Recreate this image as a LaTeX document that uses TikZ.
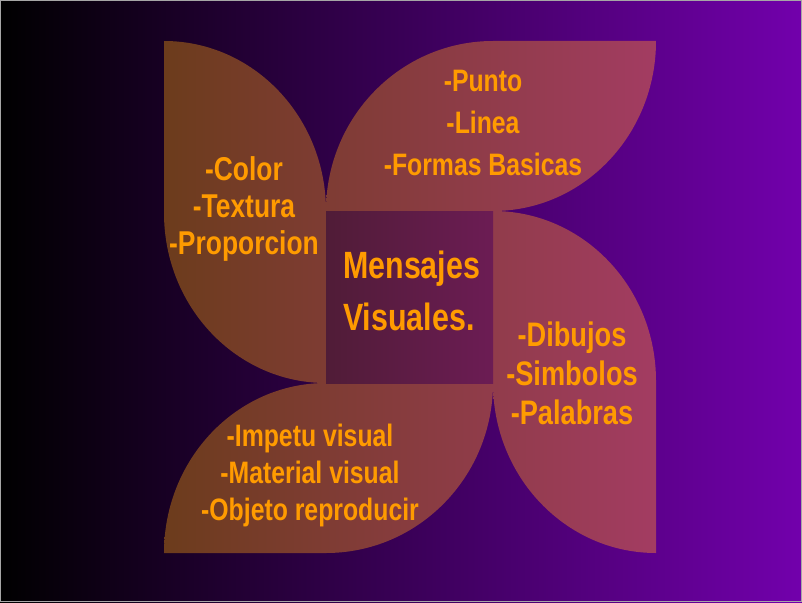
\documentclass[tikz,border=0pt]{standalone}
\usepackage{fontspec}
\setmainfont{Liberation Sans}[FakeStretch=0.8]
\definecolor{bgright}{RGB}{114,0,172}
\definecolor{petalbrown}{RGB}{108,60,28}
\definecolor{petalpink}{RGB}{163,60,98}
\definecolor{coreleft}{RGB}{80,28,55}
\definecolor{coreright}{RGB}{108,28,84}
\definecolor{textorange}{RGB}{255,155,0}
\begin{document}
\begin{tikzpicture}[x=1pt,y=-1pt,
    listtext/.style={text=textorange,inner sep=0pt,align=center,
      font=\bfseries\fontsize{31}{37}\selectfont},
    coretext/.style={text=textorange,inner sep=0pt,align=left,
      font=\bfseries\fontsize{38}{52}\selectfont}]
  \useasboundingbox (0,0) rectangle (802,602);
  \shade[left color=black,right color=bgright] (0,0) rectangle (802,602);
  \shade[left color=petalbrown,right color=petalpink!33!petalbrown]
    (164,41) arc[start angle=-90,end angle=0,x radius=162,y radius=170]
    -- (326,383) arc[start angle=90,end angle=180,x radius=162,y radius=170] -- cycle;
  \shade[left color=petalpink!33!petalbrown,right color=petalpink]
    (326,211) arc[start angle=180,end angle=270,x radius=167,y radius=170]
    -- (656,41) arc[start angle=0,end angle=90,x radius=163,y radius=170] -- cycle;
  \shade[left color=petalpink!67!petalbrown,right color=petalpink]
    (493,211) arc[start angle=-90,end angle=0,x radius=163,y radius=170]
    -- (656,553) arc[start angle=90,end angle=180,x radius=163,y radius=170] -- cycle;
  \shade[left color=petalbrown,right color=petalpink!67!petalbrown]
    (493,383) arc[start angle=0,end angle=90,x radius=167,y radius=170]
    -- (164,553) arc[start angle=180,end angle=270,x radius=162,y radius=170] -- cycle;
  \shade[left color=coreleft,right color=coreright] (326,211) rectangle (493,383);
  \node[coretext,anchor=west] (mensajes) at (343,291) {Mensajes\\Visuales.};
  \node[listtext,font=\bfseries\fontsize{31}{42}\selectfont] (punto) at (483,123) {-Punto\\-Linea\\-Formas Basicas};
  \node[listtext,font=\bfseries\fontsize{33}{37}\selectfont] (color) at (244,209) {-Color\\-Textura\\-Proporcion};
  \node[listtext,font=\bfseries\fontsize{34}{39}\selectfont] (dibujos) at (572,373) {-Dibujos\\-Simbolos\\-Palabras};
  \node[listtext] (impetu) at (310,475) {-Impetu visual\\-Material visual\\-Objeto reproducir};
  \draw[gray!70,line width=1pt] (0.5,0.5) rectangle (801.5,601.5);
\end{tikzpicture}
\end{document}
